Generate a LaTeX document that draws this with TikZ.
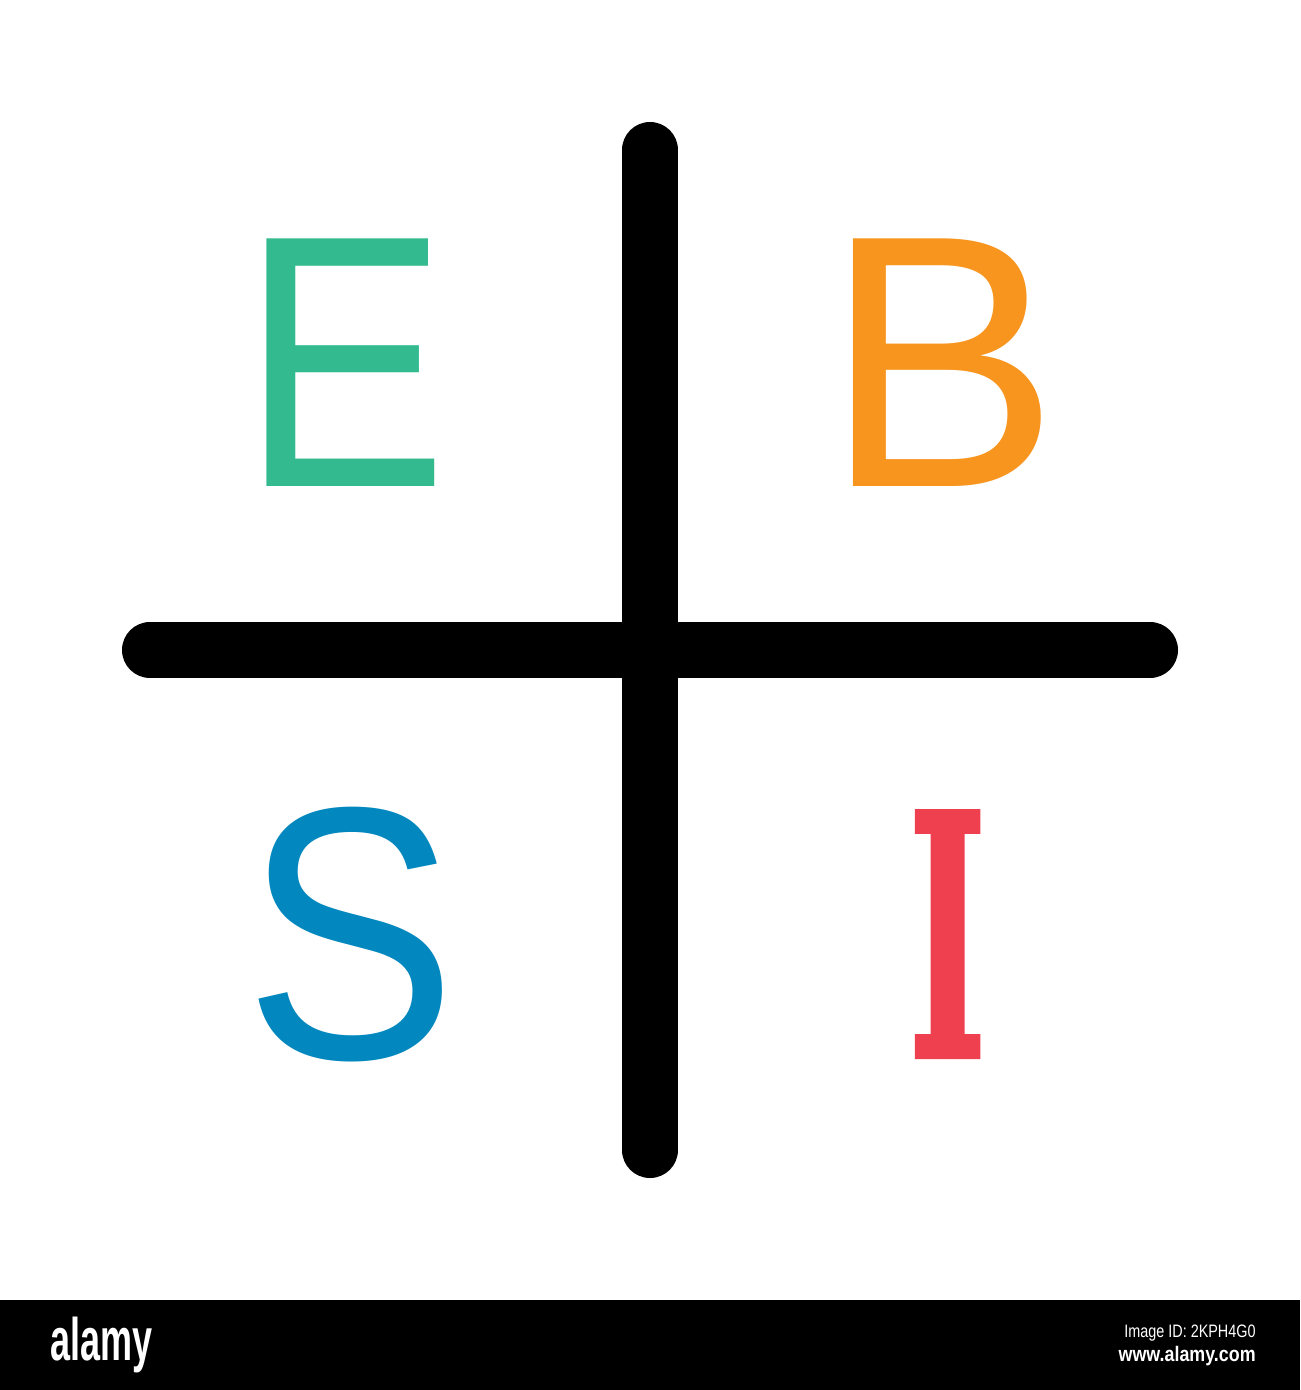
\documentclass[tikz,border=0pt]{standalone}
\usepackage{fontspec}
\setmainfont{Liberation Sans}
\newfontfamily\serifI[FakeBold=1.5]{DejaVu Serif Bold}
\definecolor{cE}{HTML}{33BB8F}
\definecolor{cB}{HTML}{F7951E}
\definecolor{cS}{HTML}{0287BE}
\definecolor{cI}{HTML}{EF4050}
\begin{document}
\begin{tikzpicture}[x=0.5pt,y=-0.5pt,
  bar/.style={line width=28pt,line cap=round,black},
  letter/.style={inner sep=0pt,outer sep=0pt,font=\fontsize{180}{180}\selectfont},
  foot/.style={inner sep=0pt,text=white}]
\useasboundingbox (0,0) rectangle (1300,1390);
\fill[white] (0,0) rectangle (1300,1300);
\fill[black] (0,1300) rectangle (1300,1390);
% cross
\coordinate (vt) at (650,150);
\coordinate (vb) at (650,1150);
\coordinate (hl) at (150,650);
\coordinate (hr) at (1150,650);
\draw[bar] (vt) -- (vb);
\draw[bar] (hl) -- (hr);
% letters
\node[letter,text=cE] (E) at (345,362.5) {\scalebox{0.86}[1]{E}};
\node[letter,text=cB] (B) at (942,362.5) {\scalebox{0.98}[1]{B}};
\node[letter,text=cS] (S) at (351,935) {\scalebox{0.885}[1]{S}};
\node[letter,text=cI] (I) at (947.5,934) {\scalebox{0.5}[1]{\serifI\fontsize{168}{168}\selectfont I}};
% footer
\node[foot,anchor=west] (logo) at (50,1345) {\scalebox{0.6}[1]{\fontsize{30}{30}\selectfont\bfseries alamy}};
\node[foot,anchor=east] (id) at (1256,1333) {\scalebox{0.8}[1]{\fontsize{9}{9}\selectfont Image ID: 2KPH4G0}};
\node[foot,anchor=east] (www) at (1256,1356) {\scalebox{0.85}[1]{\fontsize{10.5}{10.5}\selectfont\bfseries www.alamy.com}};
\end{tikzpicture}
\end{document}
